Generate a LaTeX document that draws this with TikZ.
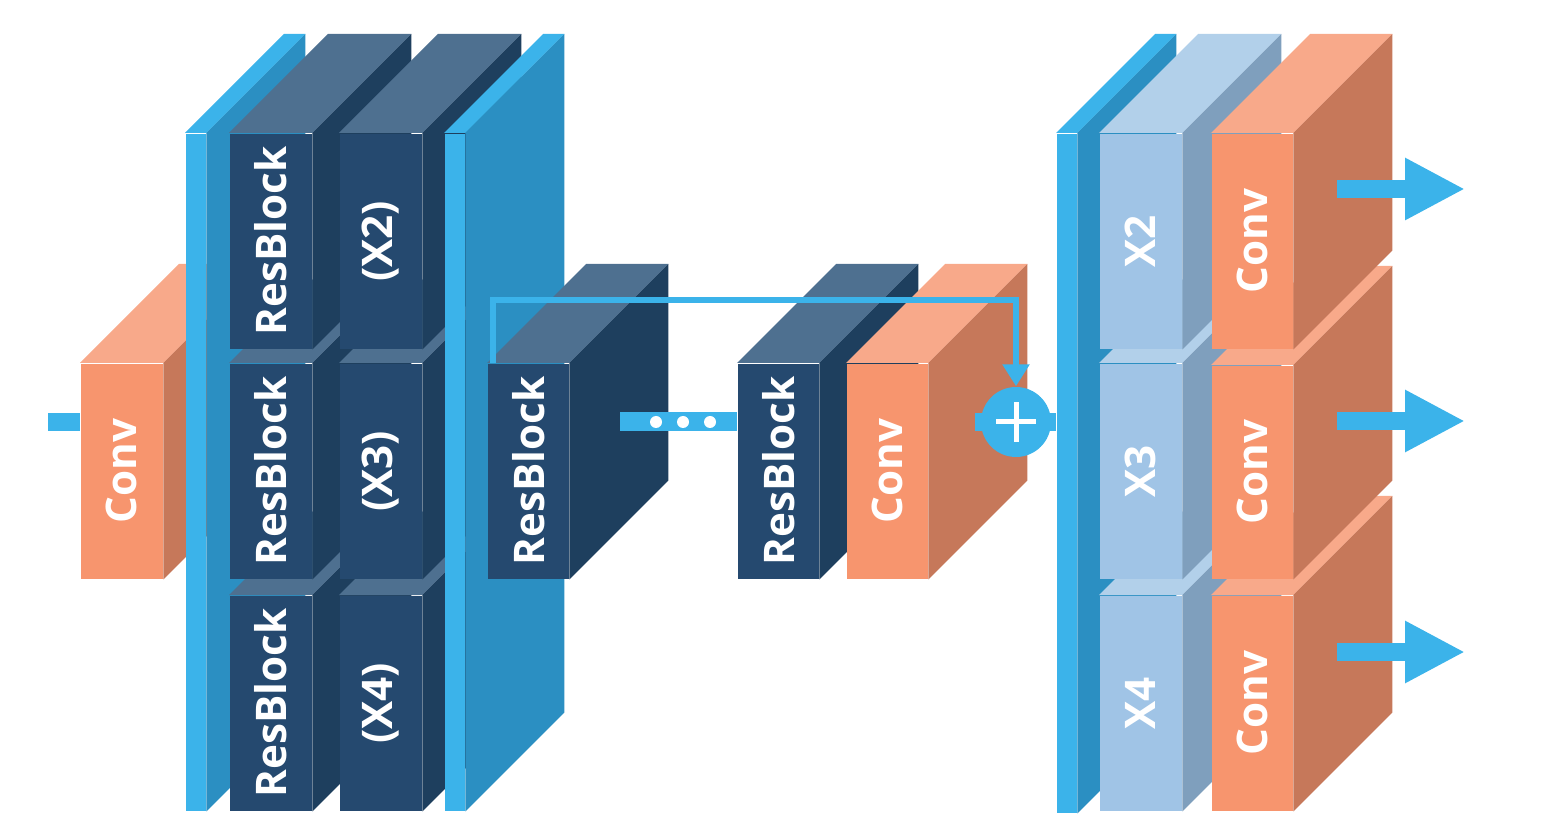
\documentclass[tikz,border=0pt]{standalone}
\usepackage{fontspec}
\setmainfont{Open Sans}
\usetikzlibrary{arrows.meta}
\definecolor{cyanl}{HTML}{3BB3EA}
\definecolor{cyans}{HTML}{2B8FC2}
\definecolor{resf}{HTML}{25496F}
\definecolor{rest}{HTML}{4E7090}
\definecolor{ress}{HTML}{1E3F5E}
\definecolor{convf}{HTML}{F7956E}
\definecolor{convt}{HTML}{F8A98A}
\definecolor{convs}{HTML}{C6785A}
\definecolor{scf}{HTML}{A0C4E6}
\definecolor{sct}{HTML}{B2D0EA}
\definecolor{scs}{HTML}{7F9FBD}
\tikzset{
  face/.style={anchor=north west, inner sep=0pt, text=white, rotate=90,
    font=\fontsize{12}{14}\selectfont\bfseries},
  link/.style={cyanl, line width=0.18cm},
}
% name, x, y, width, height, front, top, side, text
\newcommand{\block}[9]{
  \node (#1) [face, fill=#6, minimum width=#5cm, minimum height=#4cm,
    anchor=north east] at (#2,-#3) {#9};
  \fill[#7] (#1.north east) -- ++(0.99,0.99) -- ([shift={(0.99,0.99)}]#1.south east) -- (#1.south east) -- cycle;
  \fill[#8] (#1.south east) -- ++(0.99,0.99) -- ([shift={(0.99,0.99)}]#1.south west) -- (#1.south west) -- cycle;
}
\begin{document}
\begin{tikzpicture}
\useasboundingbox (0,0) rectangle (15.45,-8.38);

% input
\block{conva}{0.80}{3.63}{0.82}{2.15}{convf}{convt}{convs}{Conv}
\coordinate (in) at (0.48,-4.22);
\draw[link] (in) -- (in -| conva.north);

% encoder
\block{slaba}{1.85}{1.33}{0.20}{6.77}{cyanl}{cyanl}{cyans}{}
\block{rbc}{2.29}{5.95}{0.82}{2.15}{resf}{rest}{ress}{ResBlock}
\block{rbb}{2.29}{3.63}{0.82}{2.15}{resf}{rest}{ress}{ResBlock}
\block{rba}{2.29}{1.33}{0.82}{2.15}{resf}{rest}{ress}{ResBlock}
\block{xc}{3.39}{5.95}{0.82}{2.15}{resf}{rest}{ress}{(X4)}
\block{xb}{3.39}{3.63}{0.82}{2.15}{resf}{rest}{ress}{(X3)}
\block{xa}{3.39}{1.33}{0.82}{2.15}{resf}{rest}{ress}{(X2)}
\block{slabb}{4.44}{1.33}{0.20}{6.77}{cyanl}{cyanl}{cyans}{}

% middle
\block{rbm}{4.87}{3.63}{0.81}{2.15}{resf}{rest}{ress}{ResBlock}
\node (dots) [fill=cyanl, minimum width=1.17cm, minimum height=0.19cm, inner sep=0pt] at (6.785,-4.22) {};
\foreach \x in {6.56,6.83,7.10}
  \fill[white] (\x,-4.22) circle (0.06);
\block{rbn}{7.37}{3.63}{0.81}{2.15}{resf}{rest}{ress}{ResBlock}
\block{convm}{8.46}{3.63}{0.81}{2.15}{convf}{convt}{convs}{Conv}

% decoder
\block{slabc}{10.56}{1.33}{0.20}{6.79}{cyanl}{cyanl}{cyans}{}
\node (plus) [circle, fill=cyanl, minimum size=0.7cm] at (10.16,-4.22) {};
\coordinate (pl) at (9.75,-4.22);
\draw[link] (pl) -- (pl -| slabc.north);
\draw[white, line width=0.05cm] ([xshift=-0.2cm]plus.center) -- ([xshift=0.2cm]plus.center);
\draw[white, line width=0.05cm] ([yshift=-0.2cm]plus.center) -- ([yshift=0.2cm]plus.center);
\draw[cyanl, line width=0.06cm, -{Triangle[width=0.26cm,length=0.22cm]}]
  ([xshift=-0.355cm]rbm.east) |- (10.16,-3.0) -- (plus.north);

\block{sa}{10.99}{5.95}{0.82}{2.15}{scf}{sct}{scs}{X4}
\block{sb}{10.99}{3.63}{0.82}{2.15}{scf}{sct}{scs}{X3}
\block{sc}{10.99}{1.33}{0.82}{2.15}{scf}{sct}{scs}{X2}
\block{cc}{12.11}{5.95}{0.81}{2.15}{convf}{convt}{convs}{Conv}
\block{cb}{12.11}{3.65}{0.81}{2.13}{convf}{convt}{convs}{Conv}
\block{ca}{12.11}{1.33}{0.81}{2.15}{convf}{convt}{convs}{Conv}

% outputs
\foreach \n/\y in {a/1.89,b/4.21,c/6.52} {
  \coordinate (s\n) at (13.37,-\y);
  \coordinate (e\n) at (14.65,-\y);
  \draw[link, -{Triangle[width=0.58cm,length=0.6cm]}] (s\n) -- (e\n);
}
\end{tikzpicture}
\end{document}
